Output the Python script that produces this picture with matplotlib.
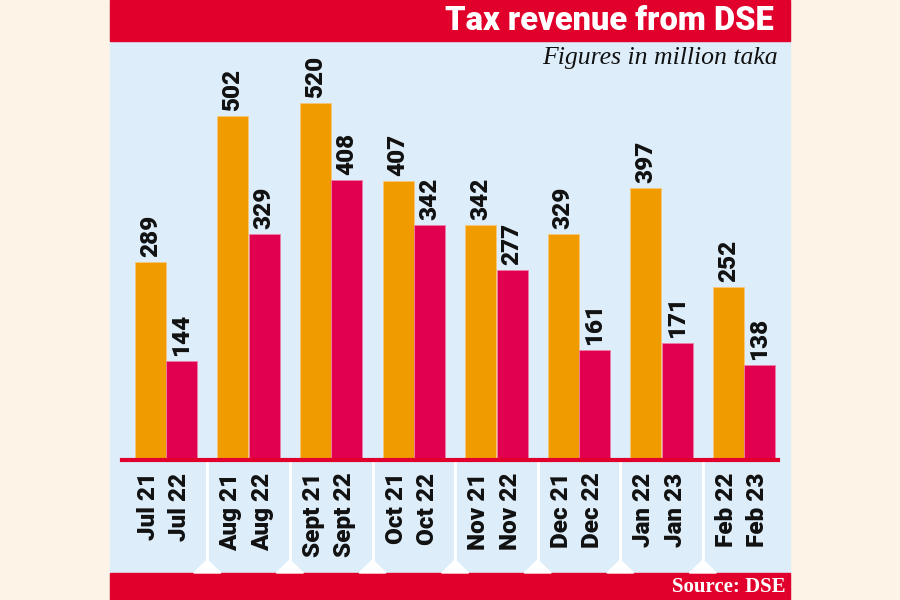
import matplotlib
matplotlib.use("Agg")
import matplotlib.pyplot as plt
from matplotlib.patches import Rectangle, Polygon
import numpy as np

# ---- data ----
months_prev = ["Jul 21", "Aug 21", "Sept 21", "Oct 21", "Nov 21", "Dec 21", "Jan 22", "Feb 22"]
months_curr = ["Jul 22", "Aug 22", "Sept 22", "Oct 22", "Nov 22", "Dec 22", "Jan 23", "Feb 23"]
values_prev = [289, 502, 520, 407, 342, 329, 397, 252]
values_curr = [144, 329, 408, 342, 277, 161, 171, 138]

# ---- style ----
CREAM = "#fdf3e7"
BLUE = "#ddeefa"
RED = "#e0002b"
ORANGE = "#f09c00"
CRIMSON = "#e0004f"

W, H = 900, 600
fig = plt.figure(figsize=(9, 6), dpi=100, facecolor=CREAM)

# background canvas in pixel coordinates
bg = fig.add_axes([0, 0, 1, 1])
bg.set_xlim(0, W)
bg.set_ylim(H, 0)
bg.axis("off")
bg.add_patch(Rectangle((110, 0), 680, 600, color=BLUE, zorder=0))
bg.add_patch(Rectangle((110, 0), 680, 41, color=RED, zorder=1))
bg.add_patch(Rectangle((110, 573), 680, 27, color=RED, zorder=1))
bg.text(774, 21, "Tax revenue from DSE", color="white", fontsize=23.5,
        fontweight="heavy", family="Roboto", ha="right", va="center")
bg.text(778, 58, "Figures in million taka", color="#111111", fontsize=18.5,
        fontstyle="italic", family="Liberation Serif", ha="right", va="center")
bg.text(785, 587, "Source: DSE", color="white", fontsize=15,
        fontweight="bold", family="Liberation Serif", ha="right", va="center")

# bar axes
base_px, top_px = 460, 41
left_px, right_px = 122, 778
pitch = 82.6
px_per_unit = 0.686
ax = fig.add_axes([left_px / W, (H - base_px) / H,
                   (right_px - left_px) / W, (base_px - top_px) / H])
ax.patch.set_alpha(0)
x0 = -(166 - left_px) / pitch
x1 = x0 + (right_px - left_px) / pitch
ax.set_xlim(x0, x1)
ax.set_ylim(0, (base_px - top_px) / px_per_unit)
for s in ax.spines.values():
    s.set_visible(False)
ax.set_xticks([])
ax.set_yticks([])

x = np.arange(len(values_prev))
bw = 0.375
off = 0.19
ax.bar(x - off, values_prev, width=bw, color=ORANGE, edgecolor="#f7c77a", linewidth=0.6, zorder=3)
ax.bar(x + off, values_curr, width=bw, color=CRIMSON, edgecolor="#ee7fa5", linewidth=0.6, zorder=3)
ax.axhline(0, xmin=0, xmax=1, color=RED, lw=3, zorder=4, clip_on=False)

lab_font = dict(fontsize=17.5, fontweight="heavy", family="Roboto", color="#111111", rotation=90)
for xi, v in zip(x - off, values_prev):
    ax.annotate(str(v), (xi, v), xytext=(0, 3.6), textcoords="offset points",
                ha="center", va="bottom", **lab_font)
for xi, v in zip(x + off, values_curr):
    ax.annotate(str(v), (xi, v), xytext=(0, 3.6), textcoords="offset points",
                ha="center", va="bottom", **lab_font)

for xi, m in zip(x - off, months_prev):
    ax.annotate(m, (xi, 0), xytext=(-1.5, -9.0), textcoords="offset points",
                ha="center", va="top", annotation_clip=False, **lab_font)
for xi, m in zip(x + off, months_curr):
    ax.annotate(m, (xi, 0), xytext=(-1.5, -9.0), textcoords="offset points",
                ha="center", va="top", annotation_clip=False, **lab_font)

# separators and notches between month groups (below baseline)
def py2d(py):
    return (base_px - py) / px_per_unit

half_w = 13.5 / pitch
for i in range(len(values_prev) - 1):
    sx = i + 0.5
    ax.plot([sx, sx], [py2d(462), py2d(566)], color="white", lw=2, zorder=2, clip_on=False)
    ax.add_patch(Polygon([[sx - half_w, py2d(573)], [sx, py2d(560)], [sx + half_w, py2d(573)]],
                         closed=True, color="white", zorder=2, clip_on=False))

fig.savefig("out.png", dpi=100, facecolor=CREAM)
